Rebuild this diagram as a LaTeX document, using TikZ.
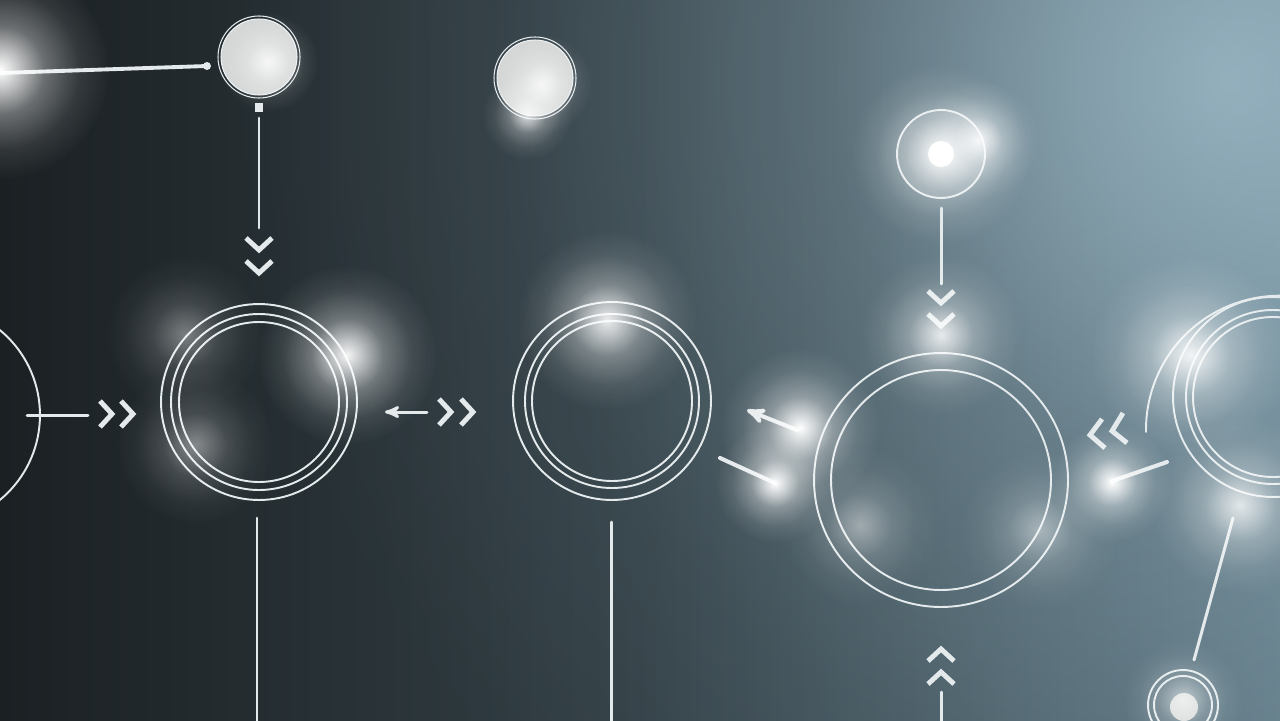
\documentclass[tikz,border=0pt]{standalone}
\usetikzlibrary{arrows, arrows.meta, fadings}

\definecolor{bgdark}{HTML}{1B2023}
\definecolor{bgmid}{HTML}{334046}
\definecolor{bgright}{HTML}{607985}
\definecolor{bglight}{HTML}{A2BFCD}
\definecolor{linecol}{HTML}{E4EAEC}
\definecolor{dotgray}{HTML}{D4D6D6}

\pgfdeclareradialshading{glowshade}{\pgfpointorigin}{%
  color(0bp)=(pgftransparent!0); color(4bp)=(pgftransparent!25);
  color(10bp)=(pgftransparent!65); color(18bp)=(pgftransparent!90);
  color(25bp)=(pgftransparent!100); color(50bp)=(pgftransparent!100)}
\pgfdeclarefading{glowfade}{\pgfuseshading{glowshade}}

\begin{document}
\begin{tikzpicture}[x=0.02cm, y=-0.02cm, >=stealth', line cap=round,
    ring node/.style={circle, draw=linecol, line width=1.1pt, inner sep=0pt, minimum size=#1},
    dot node/.style={circle, draw=linecol!70, line width=0.6pt, fill=dotgray, inner sep=0pt, minimum size=#1},
    ring line/.style={draw=linecol, line width=1.1pt},
    link/.style={draw=linecol, line width=1.7pt},
    chev/.style={draw=linecol, line width=2.8pt, line cap=butt, line join=miter},
    glow/.style={fill=white, path fading=glowfade, opacity=#1}]

        \useasboundingbox (0,0) rectangle (1280,720);
        \clip (0,0) rectangle (1280,720);

        % background
        \shade[left color=bgdark, right color=bgright, middle color=bgmid] (0,0) rectangle (1280,720);
        \fill[bglight, path fading=glowfade, opacity=0.8] (1230,80) circle (1000);

        % nodes
        \node[dot node=1.52cm]   (0) at (259,57)  {};
        \node[dot node=1.52cm]   (1) at (535,78)  {};
        \node[ring node=1.76cm, fill=white, fill opacity=0.15] (2) at (941,154) {};
        \node[ring node=4.4cm]   (3) at (-70,415) {};
        \node[ring node=3.92cm]  (4) at (259,402) {};
        \node[ring node=3.96cm]  (5) at (612,401) {};
        \node[ring node=5.08cm]  (6) at (941,480) {};
        \node[ring node=4cm]     (7) at (1273,397) {};
        \node[ring node=1.4cm]   (8) at (1183,705) {};

        % inner rings
        \draw[ring line, line width=0.6pt] (0) circle (41);
        \draw[ring line, line width=0.6pt] (1) circle (41);
        \fill[white, path fading=glowfade, opacity=0.8] (268,62) circle (50);
        \fill[white, path fading=glowfade, opacity=0.8] (542,84) circle (50);
        \draw[ring line] (4) circle (88) (4) circle (80);
        \draw[ring line] (5) circle (87) (5) circle (80);
        \draw[ring line] (6) circle (110);
        \draw[ring line] (7) circle (87) (7) circle (80);
        \draw[ring line] (1146,432) arc[start angle=179, end angle=275, radius=134];
        \draw[ring line] (8) circle (29);
        \fill[dotgray] (1184,707) circle (14);
        \fill[glow=1] (2) circle (90);
        \fill[white] (2) circle (13);

        % connector ends
        \coordinate (0l) at (0,73);
        \coordinate (0r) at (207,66);
        \coordinate (0b) at (259,118);
        \coordinate (0c) at (259,228);
        \coordinate (2b) at (941,208);
        \coordinate (2c) at (941,284);
        \coordinate (3r) at (27,415);
        \coordinate (4r) at (88,415);
        \coordinate (4b) at (257,518);
        \coordinate (4e) at (257,722);
        \coordinate (5l) at (385,412);
        \coordinate (5m) at (427,412);
        \coordinate (5b) at (611,522);
        \coordinate (5e) at (611,722);
        \coordinate (5t) at (747,410);
        \coordinate (6a) at (797,430);
        \coordinate (6b) at (720,458);
        \coordinate (6c) at (775,483);
        \coordinate (6u) at (941,692);
        \coordinate (6e) at (941,722);
        \coordinate (7a) at (1112,481);
        \coordinate (7b) at (1167,462);
        \coordinate (7c) at (1233,518);
        \coordinate (8t) at (1194,660);

        % connectors
        \draw[link, line width=2.2pt] (0l) -- (0r);
        \fill[linecol] (0r) circle (4);
        \fill[linecol] (255,103) rectangle (263,112);
        \draw[link] (0b) -- (0c);
        \draw[link] (2b) -- (2c);
        \draw[link] (3r) -- (4r);
        \draw[link] (4b) -- (4e);
        \draw[link, ->] (5m) -- (5l);
        \draw[link] (5b) -- (5e);
        \draw[link, line width=2.3pt, ->] (6a) -- (5t);
        \draw[link, line width=2.3pt] (6b) -- (6c);
        \draw[link] (6u) -- (6e);
        \draw[link, line width=2.3pt] (7a) -- (7b);
        \draw[link] (7c) -- (8t);

        % chevrons
        \draw[chev, shift={(259,245)}] (-13,-7) -- (0,5) -- (13,-7);
        \draw[chev, shift={(259,268)}] (-13,-7) -- (0,5) -- (13,-7);
        \draw[chev, shift={(941,298)}] (-13,-7) -- (0,5) -- (13,-7);
        \draw[chev, shift={(941,321)}] (-13,-7) -- (0,5) -- (13,-7);
        \draw[chev, shift={(107,414)}] (-7,-13) -- (5,0) -- (-7,13);
        \draw[chev, shift={(128,414)}] (-7,-13) -- (5,0) -- (-7,13);
        \draw[chev, shift={(446,412)}] (-7,-13) -- (5,0) -- (-7,13);
        \draw[chev, shift={(468,412)}] (-7,-13) -- (5,0) -- (-7,13);
        \draw[chev, shift={(941,654)}] (-13,7) -- (0,-5) -- (13,7);
        \draw[chev, shift={(941,677)}] (-13,7) -- (0,-5) -- (13,7);
        \draw[chev] (1102,419) -- (1090,435) -- (1105,448);
        \draw[chev] (1123,413) -- (1112,431) -- (1127,443);

        % glows
        \fill[glow=1] (0,70) circle (110);
        \fill[glow=0.9] (607,320) circle (90);
        \fill[glow=0.95] (347,355) circle (90);
        \fill[glow=0.45] (195,445) circle (80);
        \fill[glow=0.4] (185,335) circle (80);
        \fill[glow=0.9] (1190,355) circle (100);
        \fill[glow=0.8] (1240,505) circle (90);
        \fill[glow=0.85] (941,335) circle (80);
        \fill[glow=1] (800,428) circle (80);
        \fill[glow=1] (775,483) circle (60);
        \fill[glow=1] (1112,482) circle (60);
        \fill[glow=0.8] (527,115) circle (45);
        \fill[glow=0.9] (978,140) circle (60);
        \fill[glow=0.45] (860,525) circle (80);
        \fill[glow=0.45] (1040,530) circle (80);
        \fill[glow=0.6] (1183,700) circle (60);
\end{tikzpicture}
\end{document}
